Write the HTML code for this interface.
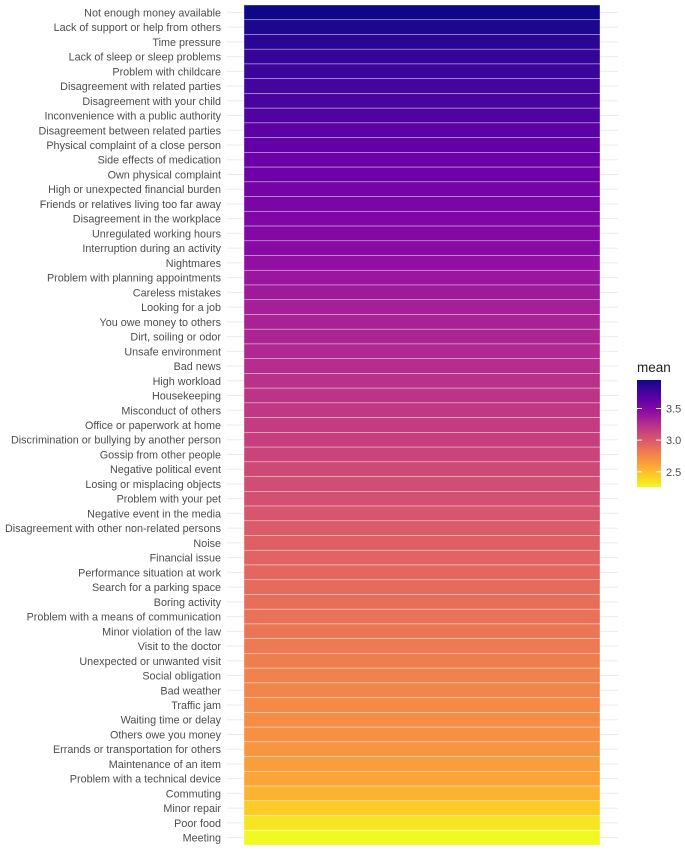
<!DOCTYPE html>
<html><head><meta charset="utf-8"><style>
body{margin:0;background:#fff;font-family:"Liberation Sans",sans-serif}
</style></head><body>
<svg id="chart" width="685" height="851" xmlns="http://www.w3.org/2000/svg" style="display:block"></svg>
<script>
const categories=["Not enough money available","Lack of support or help from others","Time pressure","Lack of sleep or sleep problems","Problem with childcare","Disagreement with related parties","Disagreement with your child","Inconvenience with a public authority","Disagreement between related parties","Physical complaint of a close person","Side effects of medication","Own physical complaint","High or unexpected financial burden","Friends or relatives living too far away","Disagreement in the workplace","Unregulated working hours","Interruption during an activity","Nightmares","Problem with planning appointments","Careless mistakes","Looking for a job","You owe money to others","Dirt, soiling or odor","Unsafe environment","Bad news","High workload","Housekeeping","Misconduct of others","Office or paperwork at home","Discrimination or bullying by another person","Gossip from other people","Negative political event","Losing or misplacing objects","Problem with your pet","Negative event in the media","Disagreement with other non-related persons","Noise","Financial issue","Performance situation at work","Search for a parking space","Boring activity","Problem with a means of communication","Minor violation of the law","Visit to the doctor","Unexpected or unwanted visit","Social obligation","Bad weather","Traffic jam","Waiting time or delay","Others owe you money","Errands or transportation for others","Maintenance of an item","Problem with a technical device","Commuting","Minor repair","Poor food","Meeting"];
const means=[3.95,3.90,3.86,3.82,3.80,3.77,3.75,3.72,3.67,3.64,3.61,3.59,3.56,3.54,3.52,3.50,3.48,3.43,3.39,3.37,3.34,3.32,3.30,3.28,3.25,3.23,3.21,3.19,3.17,3.15,3.12,3.09,3.07,3.05,3.02,2.99,2.96,2.94,2.92,2.90,2.88,2.86,2.84,2.82,2.80,2.78,2.76,2.74,2.72,2.70,2.68,2.64,2.61,2.54,2.44,2.34,2.26];
const legendTicks=[3.5,3.0,2.5];
const legendTickLabels=["3.5","3.0","2.5"];
const vmin=2.26,vmax=3.95;

const NS="http://www.w3.org/2000/svg";
const svg=document.getElementById('chart');
function mk(t,a,p){const e=document.createElementNS(NS,t);for(const k in a)e.setAttribute(k,a[k]);(p||svg).appendChild(e);return e;}
const stops=["#0d0887","#41049d","#6a00a8","#8f0da4","#b12a90","#cc4778","#e16462","#f2844b","#fca636","#fcce25","#f0f921"].map(h=>[parseInt(h.slice(1,3),16),parseInt(h.slice(3,5),16),parseInt(h.slice(5,7),16)]);
function color(v){let t=(vmax-v)/(vmax-vmin);t=Math.max(0,Math.min(1,t))*10;const i=Math.min(9,Math.floor(t)),f=t-i;const a=stops[i],b=stops[i+1];return `rgb(${a.map((c,j)=>Math.round(c+(b[j]-c)*f)).join(',')})`;}
const top0=5,bot0=845,n=categories.length,rowH=(bot0-top0)/n;
function y(i){return top0+i*rowH;}
const x0=244,x1=600;
for(let i=0;i<n;i++){const g=mk('line',{x1:227,x2:618,y1:y(i)+rowH/2,y2:y(i)+rowH/2,stroke:'#ebebeb','stroke-width':1});}
categories.forEach((c,i)=>{
  const r=mk('rect',{x:x0,y:y(i),width:x1-x0,height:rowH,fill:color(means[i]),stroke:'#ffffff','stroke-width':0.6,'stroke-opacity':0.6});
  
  
  const t=mk('text',{x:221,y:y(i)+rowH/2+4,'text-anchor':'end','font-size':'10.8',fill:'#4d4d4d'});
  t.textContent=c;
  
  
});
const lg=mk('g',{});


const tt=mk('text',{x:637,y:372,'font-size':'13.5',fill:'#222'},lg);tt.textContent='mean';


const defs=mk('defs',{});const gr=mk('linearGradient',{id:'lgd',x1:0,y1:0,x2:0,y2:1},defs);
for(let k=0;k<=20;k++){mk('stop',{offset:k/20,'stop-color':color(vmax-(vmax-vmin)*k/20)},gr);}
const ly0=380,ly1=487;
function ly(v){return ly0+(vmax-v)/(vmax-vmin)*(ly1-ly0);}
const bar=mk('rect',{x:637,y:ly0,width:24,height:ly1-ly0,fill:'url(#lgd)'},lg);


legendTicks.forEach((v,i)=>{
  mk('line',{x1:637,x2:642,y1:ly(v),y2:ly(v),stroke:'#fff'},lg);
  mk('line',{x1:656,x2:661,y1:ly(v),y2:ly(v),stroke:'#fff'},lg);
  const t=mk('text',{x:666,y:ly(v)+4,'font-size':'11',fill:'#4d4d4d'},lg);t.textContent=legendTickLabels[i];
  
  
});
</script>
</body></html>
